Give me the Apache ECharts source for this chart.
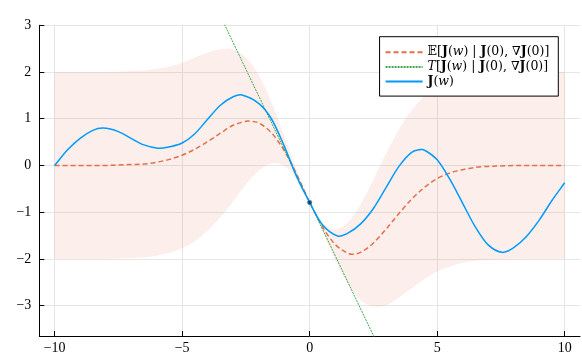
<!DOCTYPE html>
<html>
<head>
<meta charset="utf-8">
<script src="https://cdn.jsdelivr.net/npm/echarts@6/dist/echarts.min.js"></script>
<style>
html,body{margin:0;padding:0;background:#fff;}
#c{width:582px;height:363px;}
</style>
</head>
<body>
<div id="c"></div>
<script>
// ---- data ----
const bandX = [-10,-9.5,-9,-8.5,-8,-7.5,-7,-6.5,-6,-5.5,-5,-4.5,-4,-3.5,-3,-2.5,-2,-1.5,-1,-0.5,0,0.5,1,1.5,2,2.5,3,3.5,4,4.5,5,5.5,6,6.5,7,7.5,8,8.5,9,9.5,10];
const upperY = [2,2,2,2,2,2.01,2.02,2.03,2.07,2.12,2.20,2.31,2.42,2.49,2.48,2.31,1.94,1.36,0.64,-0.12,-0.79,-1.22,-1.37,-1.22,-0.83,-0.30,0.26,0.77,1.18,1.49,1.70,1.83,1.91,1.96,1.98,1.99,2,2,2,2,2];
const lowerY = [-2,-2,-2,-2,-2,-1.99,-1.98,-1.97,-1.93,-1.87,-1.77,-1.62,-1.39,-1.11,-0.77,-0.41,-0.12,0.04,-0.01,-0.29,-0.79,-1.40,-2.02,-2.54,-2.88,-3.02,-2.99,-2.83,-2.63,-2.43,-2.27,-2.16,-2.08,-2.04,-2.02,-2.01,-2,-2,-2,-2,-2];
const meanX = [-10,-9.5,-9,-8.5,-8,-7.5,-7,-6.5,-6,-5.5,-5,-4.5,-4,-3.5,-3,-2.5,-2.38,-2,-1.5,-1,-0.5,0,0.5,1,1.5,1.68,2,2.5,3,3.5,4,4.5,5,5.5,6,6.5,7,7.5,8,8.5,9,9.5,10];
const meanY = [0,0,0,0,0,0.01,0.02,0.03,0.07,0.13,0.22,0.35,0.51,0.69,0.86,0.945,0.95,0.91,0.70,0.32,-0.20,-0.79,-1.31,-1.69,-1.88,-1.90,-1.86,-1.66,-1.36,-1.03,-0.72,-0.47,-0.28,-0.16,-0.09,-0.04,-0.02,-0.01,0,0,0,0,0];
const jX = [-10,-9.5,-9,-8.5,-8.1,-7.5,-7,-6.5,-5.95,-5.5,-5,-4.5,-4,-3.5,-3,-2.65,-2,-1.5,-1,-0.5,0,0.5,1.1,1.5,2,2.5,3,3.5,4,4.35,4.5,5,5.5,6,6.5,7,7.55,8,8.5,9,9.5,10];
const jY = [0.00,0.33,0.58,0.75,0.80,0.725,0.58,0.44,0.37,0.40,0.48,0.68,0.99,1.29,1.47,1.51,1.33,1.00,0.42,-0.25,-0.79,-1.27,-1.51,-1.45,-1.25,-0.92,-0.47,-0.02,0.28,0.34,0.33,0.12,-0.30,-0.81,-1.32,-1.70,-1.86,-1.76,-1.52,-1.17,-0.75,-0.37];
const tangentX = [-10, 10];
const tangentY = [10.61, -12.19];
const pointX = [0];
const pointY = [-0.79];
const xTicks = [-10,-5,0,5,10];
const yTicks = [-3,-2,-1,0,1,2,3];
const seriesNames = ['mean','tangent','J'];

// ---- build ----
const pairs = (a,b) => a.map((v,i)=>[v,b[i]]);
const fmt = v => v < 0 ? '\u2212' + Math.abs(v) : String(v);
const serif = 'Liberation Serif';
const legendFont = 'DejaVu Serif';
const gridColor = '#e6e6e6';
const cOrange = '#E36F47', cGreen = '#3EA44E', cBlue = '#009AFA';

// smooth path through pixel points (non-uniform cardinal spline as cubic Beziers)
function splinePath(pts, move) {
  let d = (move ? 'M' : 'L') + pts[0][0] + ',' + pts[0][1];
  const n = pts.length;
  const h = i => Math.abs(pts[Math.min(i+1,n-1)][0] - pts[Math.max(i,0)][0]);
  for (let i = 0; i < n - 1; i++) {
    const p0 = pts[Math.max(i-1,0)], p1 = pts[i], p2 = pts[i+1], p3 = pts[Math.min(i+2,n-1)];
    const hi = h(i), hp = i > 0 ? h(i-1) : 0, hn = i + 1 < n - 1 ? h(i+1) : 0;
    const f1 = hi / (hp + hi) / 3, f2 = hi / (hi + hn) / 3;
    const c1 = [p1[0] + (p2[0]-p0[0])*f1, p1[1] + (p2[1]-p0[1])*f1];
    const c2 = [p2[0] - (p3[0]-p1[0])*f2, p2[1] - (p3[1]-p1[1])*f2];
    d += ' C' + c1[0] + ',' + c1[1] + ' ' + c2[0] + ',' + c2[1] + ' ' + p2[0] + ',' + p2[1];
  }
  return d;
}
function curveSeries(id, xArr, yArr, style, z) {
  return {
    id: id, name: id, type: 'custom', silent: true, clip: true, z: z, data: [[0, 0]],
    renderItem: (params, api) => ({
      type: 'path',
      shape: {pathData: splinePath(xArr.map((x,i) => api.coord([x, yArr[i]])), true)},
      style: Object.assign({fill: null}, style)
    })
  };
}

const chart = echarts.init(document.getElementById('c'), null, {renderer:'canvas'});
const legendLabels = {
  mean: '\u{1D53C}[{b|J}({i|w}) | {b|J}(0), \u2207{b|J}(0)]',
  tangent: '{i|T}[{b|J}({i|w}) | {b|J}(0), \u2207{b|J}(0)]',
  J: '{b|J}({i|w})'
};
chart.setOption({
  animation: false,
  backgroundColor: '#fff',
  grid: {left: 39.3, right: 2, top: 25.3, bottom: 27, containLabel: false},
  xAxis: {
    type: 'value', min: -10.6, max: 10.6,
    axisLine: {show: true, onZero: false, lineStyle: {color: '#000', width: 1}},
    axisTick: {show: true, inside: true, length: 5, customValues: xTicks, lineStyle: {color: '#000'}},
    axisLabel: {customValues: xTicks, formatter: fmt, color: '#000', fontFamily: serif, fontSize: 14, margin: 5},
    splitLine: {show: true, lineStyle: {color: gridColor, width: 1}}
  },
  yAxis: {
    type: 'value', min: -3.65, max: 3,
    axisLine: {show: true, onZero: false, lineStyle: {color: '#000', width: 1}},
    axisTick: {show: true, inside: true, length: 5, customValues: yTicks, lineStyle: {color: '#000'}},
    axisLabel: {customValues: yTicks, formatter: fmt, color: '#000', fontFamily: serif, fontSize: 14, margin: 8},
    splitLine: {show: true, lineStyle: {color: gridColor, width: 1}}
  },
  legend: {
    data: seriesNames,
    right: 23.7, top: 36.7,
    orient: 'vertical',
    align: 'left',
    backgroundColor: '#fff',
    borderColor: '#000', borderWidth: 1,
    padding: [9, 9, 8, 5],
    itemWidth: 37, itemHeight: 12, itemGap: 1.7,
    itemStyle: {opacity: 0},
    formatter: n => legendLabels[n],
    textStyle: {
      color: '#000', fontFamily: legendFont, fontSize: 12.5, lineHeight: 13,
      rich: {
        b: {fontWeight: 'bold', fontFamily: legendFont, fontSize: 12.5, color: '#000'},
        i: {fontStyle: 'italic', fontFamily: legendFont, fontSize: 12.5, color: '#000'}
      }
    }
  },
  series: [
    {name: 'band', type: 'custom', silent: true, z: 1, clip: true,
     data: [[0, 0]],
     renderItem: (params, api) => {
       const up = bandX.map((x,i) => api.coord([x, upperY[i]]));
       const lo = bandX.map((x,i) => api.coord([x, lowerY[i]])).reverse();
       const d = splinePath(up, true) + ' ' + splinePath(lo, false) + ' Z';
       return {type: 'path', shape: {pathData: d}, style: {fill: 'rgba(227,111,71,0.11)', stroke: null}};
     }},
    // legend entries (styles); the smooth curves are drawn by the custom series below
    {name: 'mean', type: 'line', data: [], showSymbol: false, symbol: 'none',
     color: cOrange, lineStyle: {color: cOrange, width: 1.5, type: [5, 3]}},
    {name: 'tangent', type: 'line', data: pairs(tangentX, tangentY), showSymbol: false, symbol: 'none', clip: true,
     color: cGreen, lineStyle: {color: cGreen, width: 1, type: [2, 1]}, z: 4},
    {name: 'J', type: 'line', data: [], showSymbol: false, symbol: 'none',
     color: cBlue, lineStyle: {color: cBlue, width: 1.5}},
    curveSeries('meanCurve', meanX, meanY, {stroke: cOrange, lineWidth: 1.5, lineDash: [5, 3]}, 3),
    curveSeries('jCurve', jX, jY, {stroke: cBlue, lineWidth: 1.5}, 5),
    {name: 'point', type: 'scatter', data: pairs(pointX, pointY), symbolSize: 4.5,
     itemStyle: {color: '#10263a', borderColor: cBlue, borderWidth: 0.6}, z: 6}
  ]
});
</script>
</body>
</html>
